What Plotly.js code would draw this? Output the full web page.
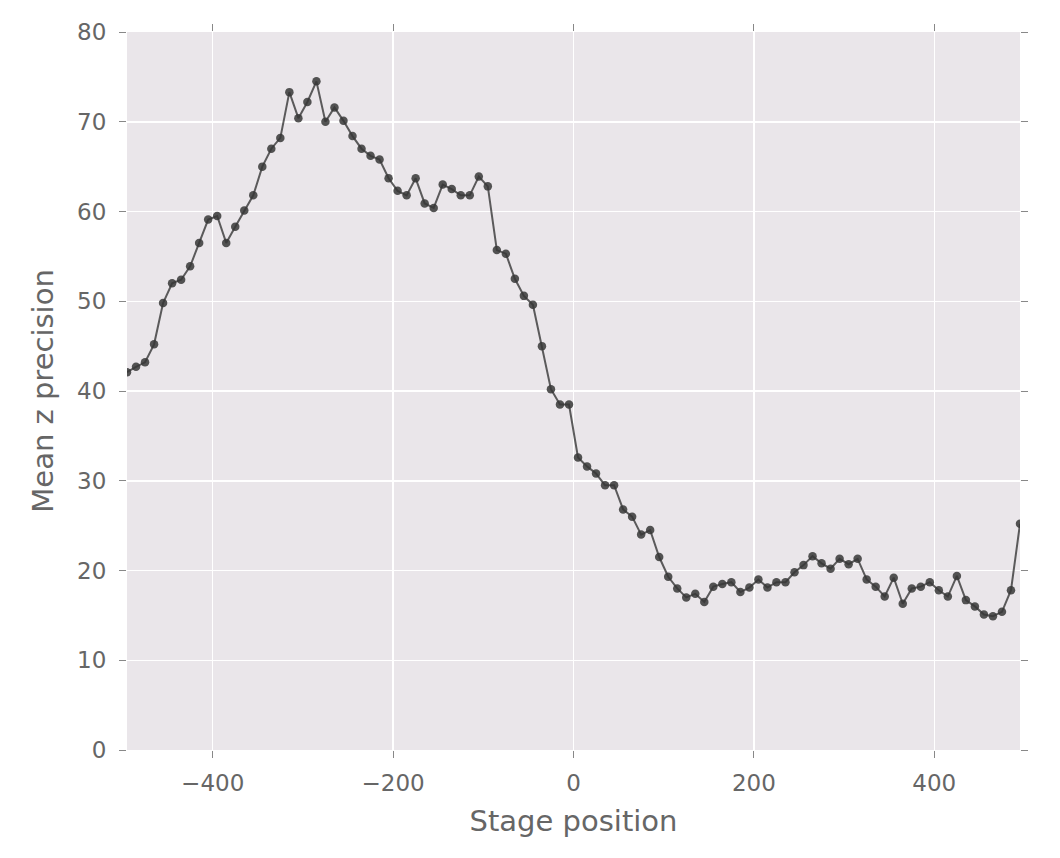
<!DOCTYPE html>
<html>
<head>
<meta charset="utf-8">
<script src="https://cdn.plot.ly/plotly-3.0.1.min.js"></script>
<style>html,body{margin:0;padding:0;background:#fff;}#chart{width:1060px;height:858px;}</style>
</head>
<body>
<div id="chart"></div>
<script>
// Stage positions (x) and mean z precision (y)
const stagePosition = [
  -495,-485,-475,-465,-455,-445,-435,-425,-415,-405,
  -395,-385,-375,-365,-355,-345,-335,-325,-315,-305,
  -295,-285,-275,-265,-255,-245,-235,-225,-215,-205,
  -195,-185,-175,-165,-155,-145,-135,-125,-115,-105,
  -95,-85,-75,-65,-55,-45,-35,-25,-15,-5,
  5,15,25,35,45,55,65,75,85,95,
  105,115,125,135,145,155,165,175,185,195,
  205,215,225,235,245,255,265,275,285,295,
  305,315,325,335,345,355,365,375,385,395,
  405,415,425,435,445,455,465,475,485,495
];
const meanZPrecision = [
  42.1,42.7,43.2,45.2,49.8,52.0,52.4,53.9,56.5,59.1,
  59.5,56.5,58.3,60.1,61.8,65.0,67.0,68.2,73.3,70.4,
  72.2,74.5,70.0,71.6,70.1,68.4,67.0,66.2,65.8,63.7,
  62.3,61.8,63.7,60.9,60.4,63.0,62.5,61.8,61.8,63.9,
  62.8,55.7,55.3,52.5,50.6,49.6,45.0,40.2,38.5,38.5,
  32.6,31.6,30.8,29.5,29.5,26.8,26.0,24.0,24.5,21.5,
  19.3,18.0,17.0,17.4,16.5,18.2,18.5,18.7,17.6,18.1,
  19.0,18.1,18.7,18.7,19.8,20.6,21.6,20.8,20.2,21.3,
  20.7,21.3,19.0,18.2,17.1,19.2,16.3,18.0,18.2,18.7,
  17.8,17.1,19.4,16.7,16.0,15.1,14.9,15.4,17.8,25.2
];
const xTicks = [-400, -200, 0, 200, 400];
const xTickLabels = ['\u2212400', '\u2212200', '0', '200', '400'];
const yTicks = [0, 10, 20, 30, 40, 50, 60, 70, 80];

const trace = {
  x: stagePosition,
  y: meanZPrecision,
  type: 'scatter',
  mode: 'lines+markers',
  line: {color: 'rgba(55,55,55,0.8)', width: 2},
  marker: {color: 'rgba(55,55,55,0.85)', size: 8.5, symbol: 'circle'},
  cliponaxis: true,
  hoverinfo: 'x+y'
};

const font = "'DejaVu Sans', sans-serif";
const textColor = '#666666';
const layout = {
  width: 1060,
  height: 858,
  margin: {l: 127, r: 40, t: 32, b: 108, pad: 0},
  paper_bgcolor: '#ffffff',
  plot_bgcolor: '#EAE6EA',
  showlegend: false,
  font: {family: font, color: textColor, size: 23},
  xaxis: {
    range: [-495, 495],
    tickmode: 'array',
    tickvals: xTicks,
    ticktext: xTickLabels,
    ticks: 'outside',
    ticklen: 7,
    tickwidth: 1,
    tickcolor: '#888888',
    ticklabelstandoff: 5,
    mirror: 'ticks',
    showline: false,
    zeroline: false,
    showgrid: true,
    gridcolor: '#ffffff',
    gridwidth: 1.5,
    tickfont: {family: font, size: 23, color: textColor},
    title: {text: 'Stage position', font: {family: font, size: 29, color: textColor}, standoff: 16}
  },
  yaxis: {
    range: [0, 80],
    tickmode: 'array',
    tickvals: yTicks,
    ticks: 'outside',
    ticklen: 7,
    tickwidth: 1,
    tickcolor: '#888888',
    ticklabelstandoff: 8,
    mirror: 'ticks',
    showline: false,
    zeroline: false,
    showgrid: true,
    gridcolor: '#ffffff',
    gridwidth: 1.5,
    tickfont: {family: font, size: 23, color: textColor},
    title: {text: 'Mean z precision', font: {family: font, size: 29, color: textColor}, standoff: 14}
  }
};

Plotly.newPlot('chart', [trace], layout, {displayModeBar: false, staticPlot: true});
</script>
</body>
</html>
